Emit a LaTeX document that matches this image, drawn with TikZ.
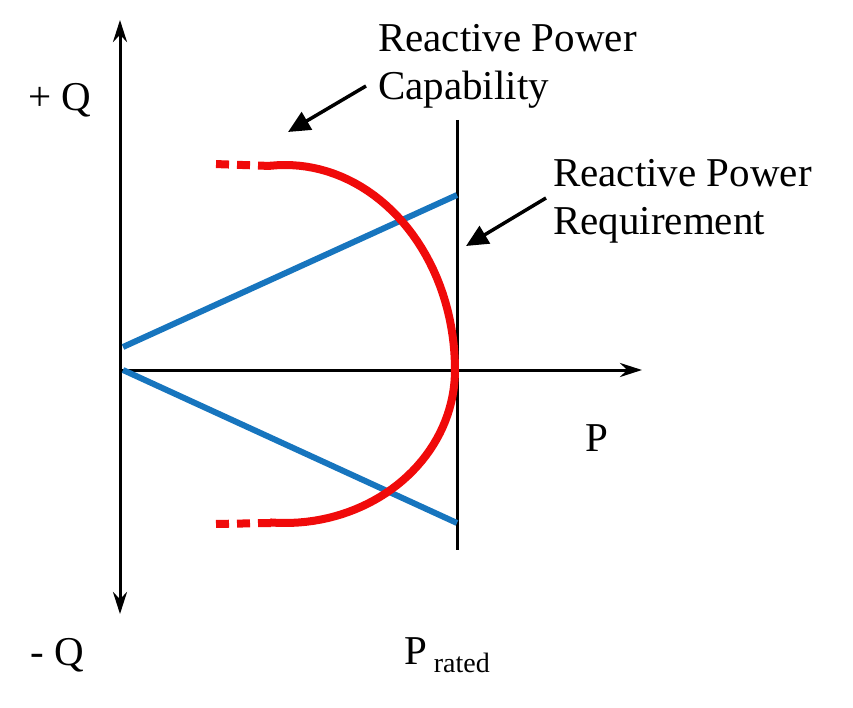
\documentclass[tikz,border=0pt]{standalone}
\usepackage{fontspec}
\setmainfont{Liberation Serif}
\usetikzlibrary{arrows.meta}
\begin{document}
\begin{tikzpicture}[x=1pt,y=-1pt,
  ax/.style={line width=3pt,-{Stealth[length=22pt,width=14pt]}},
  lbl/.style={font=\fontsize{41}{48}\selectfont,inner sep=0pt,anchor=west},
  ptr/.style={line width=3.5pt,-{Triangle[length=22pt,width=20pt]}},
  blue/.style={line width=6pt,color={rgb,255:red,23;green,117;blue,190}},
  red/.style={line width=8pt,color={rgb,255:red,240;green,10;blue,10}}]
\useasboundingbox (0,0) rectangle (853,708);
\coordinate (o) at (120,370);
\coordinate (yt) at (120,20);
\coordinate (yb) at (120,614);
\coordinate (xr) at (642,370);
\draw[ax] (o) -- (yt);
\draw[ax] (o) -- (yb);
\draw[ax] (o) -- (xr);
\coordinate (vt) at (457,120);
\coordinate (vb) at (457,550);
\draw[line width=3pt] (vt) -- (vb);
\draw[blue] (123,347) -- (457,195);
\draw[blue] (123,370) -- (457,523);
\draw[red,domain=95:0,samples=40] plot ({285+170*cos(\x)},{370-205*sin(\x)});
\draw[red,domain=0:-95,samples=40] plot ({285+170*cos(\x)},{370-153*sin(\x)});
\draw[red,dash pattern=on 13pt off 8pt] (271,166) -- (214,164);
\draw[red,dash pattern=on 13pt off 8pt] (271,523) -- (214,524);
\node[lbl] (pq) at (28,100) {+ Q};
\node[lbl] (mq) at (30,655) {- Q};
\node[lbl] (p) at (585,438) {P};
\node[lbl] (pr) at (404,655) {P\,{\fontsize{28}{30}\selectfont\raisebox{-8pt}{rated}}};
\node[lbl,align=left] (cap) at (378,66) {Reactive Power\\Capability};
\node[lbl,align=left] (req) at (553,201) {Reactive Power\\Requirement};
\coordinate (c1) at (366,86);
\coordinate (c2) at (288,132);
\coordinate (r1) at (546,198);
\coordinate (r2) at (466,246);
\draw[ptr] (c1) -- (c2);
\draw[ptr] (r1) -- (r2);
\end{tikzpicture}
\end{document}
